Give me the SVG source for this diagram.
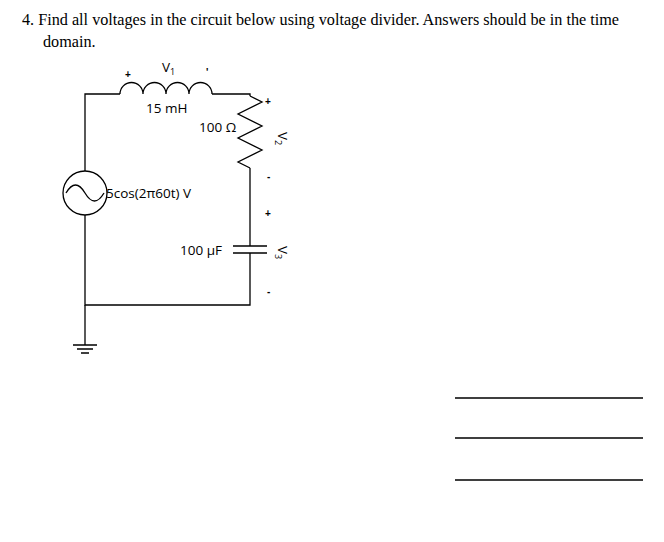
<svg xmlns="http://www.w3.org/2000/svg" width="664" height="542" viewBox="0 0 664 542">
<style>
.w{fill:none;stroke:#000;stroke-width:1.3}
.t{font-family:"Liberation Serif",serif;font-size:16.2px}
.s{font-family:"Open Sans","Liberation Sans",sans-serif;font-size:13.5px}
.p{font-family:"Liberation Sans",sans-serif;font-size:10px;font-weight:bold}
</style>
<rect width="664" height="542" fill="#fff"/>
<text class="t" x="22" y="25">4.  Find all voltages in the circuit below using voltage divider. Answers should be in the time</text>
<text class="t" x="43" y="47">domain.</text>
<g id="wires" class="w">
<path d="M85,171 V94 H120"/>
<path d="M212,94 H250 V96"/>
<path d="M250,168 V246"/>
<path d="M250,253 V305 H85 V215"/>
<path d="M85,305 V345"/>
</g>
<g id="inductor"><path class="w" d="M120,94 a11.5,11.5 0 0 1 23,0 a11.5,11.5 0 0 1 23,0 a11.5,11.5 0 0 1 23,0 a11.5,11.5 0 0 1 23,0"/>
<text class="s" x="162" y="72" font-size="13.5">V<tspan font-size="9" dy="3">1</tspan></text>
<text class="p" x="125" y="78">+</text><text class="p" x="206" y="76">'</text>
<text class="s" x="146" y="113">15 mH</text></g>
<g id="resistor"><path class="w" d="M250,96 L262,102 L238,114 L262,126 L238,138 L262,150 L238,162 L250,168"/>
<text class="s" x="199" y="132">100 Ω</text>
<text class="p" x="265" y="105">+</text><text class="p" x="267" y="180">-</text>
<text class="s" font-size="13.5" transform="translate(278,132) rotate(90)">V<tspan font-size="9" dy="3">2</tspan></text></g>
<g id="capacitor"><path class="w" d="M233,246 H267 M233,253 H267"/>
<text class="s" x="180" y="255">100 µF</text>
<text class="p" x="265" y="217">+</text><text class="p" x="267" y="295">-</text>
<text class="s" font-size="13.5" transform="translate(278,246) rotate(90)">V<tspan font-size="9" dy="3">3</tspan></text></g>
<g id="source"><circle class="w" cx="85" cy="193" r="22"/>
<path class="w" d="M66,193 q9.5,-16 19,0 q9.5,16 19,0"/>
<text class="s" x="106" y="198">5cos(2π60t) V</text></g>
<g id="ground" class="w"><path d="M73,345 H97 M77,349 H93 M81,353 H89"/></g>
<g id="answers" class="w"><path d="M455,398 H643 M455,438 H643 M455,480 H643"/></g>
</svg>
